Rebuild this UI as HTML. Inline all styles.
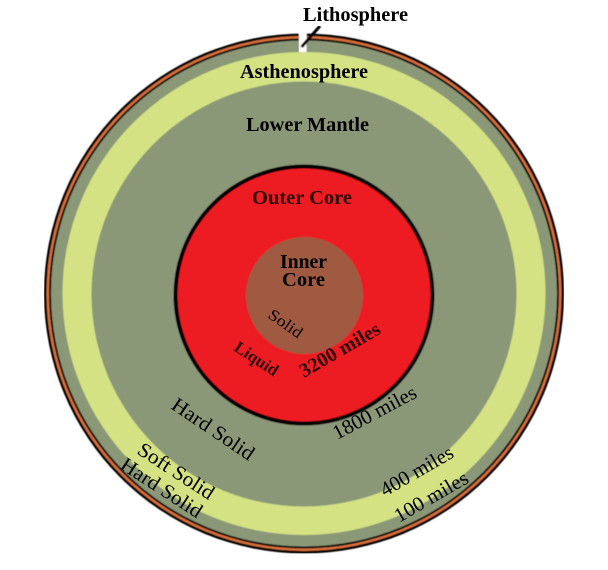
<!DOCTYPE html>
<html>
<head>
<meta charset="utf-8">
<style>
html,body{margin:0;padding:0;background:#fff;width:608px;height:570px;overflow:hidden}
svg{display:block}
text{font-family:"Liberation Serif",serif;fill:#000}
.b{font-weight:bold;font-size:20px}
.r{font-size:20.5px;-webkit-text-stroke:.35px #000}
</style>
</head>
<body>
<svg width="608" height="570" viewBox="0 0 608 570" xmlns="http://www.w3.org/2000/svg">
<defs><filter id="s" x="0" y="0" width="100%" height="100%"><feGaussianBlur stdDeviation="0.4"/></filter></defs>
<g filter="url(#s)">
<circle cx="304" cy="293.500" r="260" fill="#000"/>
<circle cx="304" cy="293.500" r="257.500" fill="#d9703c"/>
<circle cx="304" cy="293.500" r="255" fill="#000"/>
<circle cx="304" cy="293.500" r="253" fill="#8a9878"/>
<circle cx="304" cy="293.500" r="241.500" fill="#d4e283"/>
<circle cx="304" cy="294" r="212.500" fill="#8a9878"/>
<circle cx="304" cy="295" r="128.500" fill="#ed1c24" stroke="#000" stroke-width="4"/>
<circle cx="304.500" cy="295.500" r="58.500" fill="#a05a42"/>
<rect x="299" y="32" width="7.500" height="20" fill="#fff"/>
<line x1="301.500" y1="47" x2="320" y2="26" stroke="#000" stroke-width="3"/>
</g>
<text class="b" x="303" y="21" textLength="105" lengthAdjust="spacingAndGlyphs">Lithosphere</text>
<text class="b" x="240" y="78" textLength="128" lengthAdjust="spacingAndGlyphs">Asthenosphere</text>
<text class="b" x="246" y="131" textLength="123" lengthAdjust="spacingAndGlyphs">Lower Mantle</text>
<text class="b" x="252" y="204" textLength="100" lengthAdjust="spacingAndGlyphs" style="fill:#300508">Outer Core</text>
<text class="b" x="280" y="268" textLength="47" lengthAdjust="spacingAndGlyphs">Inner</text>
<text class="b" x="282" y="286" textLength="43" lengthAdjust="spacingAndGlyphs">Core</text>
<text class="r" transform="translate(170,408) rotate(34)" textLength="95" lengthAdjust="spacingAndGlyphs">Hard Solid</text>
<text class="r" transform="translate(136,453) rotate(33)" textLength="87" lengthAdjust="spacingAndGlyphs">Soft Solid</text>
<text class="r" transform="translate(119,468) rotate(33)" textLength="93" lengthAdjust="spacingAndGlyphs">Hard Solid</text>
<text class="r" transform="translate(337,440) rotate(-28)" textLength="92" lengthAdjust="spacingAndGlyphs">1800 miles</text>
<text class="r" transform="translate(385,497) rotate(-30)" textLength="81" lengthAdjust="spacingAndGlyphs">400 miles</text>
<text class="r" transform="translate(399,523) rotate(-30)" textLength="82" lengthAdjust="spacingAndGlyphs">100 miles</text>
<text class="b" transform="translate(304,378) rotate(-30)" textLength="90" lengthAdjust="spacingAndGlyphs" style="fill:#300508">3200 miles</text>
<text class="b" transform="translate(233,350) rotate(33)" textLength="49" lengthAdjust="spacingAndGlyphs" style="font-size:17px;fill:#300508">Liquid</text>
<text transform="translate(267,317) rotate(35)" textLength="38" lengthAdjust="spacingAndGlyphs" style="font-size:16px;-webkit-text-stroke:.3px #000">Solid</text>
</svg>
</body>
</html>
